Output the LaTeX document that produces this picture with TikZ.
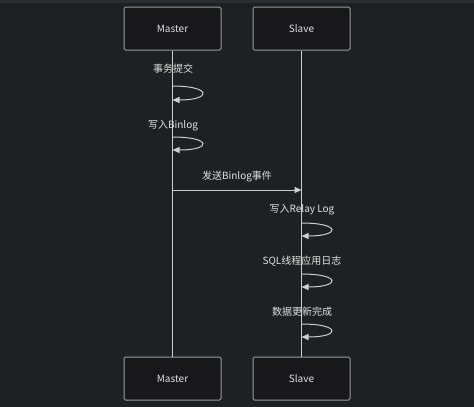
\documentclass[tikz,border=0pt]{standalone}
\usepackage{fontspec}
\setmainfont{Noto Sans CJK SC}
\usetikzlibrary{arrows.meta}
\definecolor{bgc}{HTML}{1F2023}
\definecolor{topc}{HTML}{2B2D30}
\definecolor{boxfill}{HTML}{18181A}
\definecolor{boxline}{HTML}{9A9B9E}
\definecolor{linec}{HTML}{CFCFCF}
\definecolor{textc}{HTML}{E2E2E2}
\tikzset{
  actor/.style={draw=boxline, fill=boxfill, line width=1pt, rounded corners=1.5pt,
    minimum width=97pt, minimum height=43pt, inner sep=0pt, text=textc, font=\fontsize{10}{12}\selectfont},
  life/.style={draw=linec, line width=1pt},
  msg/.style={draw=linec, line width=1pt, -{Triangle[length=7pt,width=6pt]}},
  lbl/.style={text=textc, font=\fontsize{10}{12}\selectfont, inner sep=0pt}
}
\begin{document}
\begin{tikzpicture}[x=1pt,y=1pt]
\useasboundingbox (0,0) rectangle (474,-407);
\fill[bgc] (0,0) rectangle (474,-407);
\fill[topc] (0,0) rectangle (474,-2.5);
% actors
\node[actor] (mtop) at (172.5,-28.5) {Master};
\node[actor] (stop) at (301.5,-28.5) {Slave};
\node[actor] (mbot) at (172.5,-378.5) {Master};
\node[actor] (sbot) at (301.5,-378.5) {Slave};
% lifelines
\draw[life] (mtop.south) -- (mbot.north);
\draw[life] (stop.south) -- (sbot.north);
% master self loops
\coordinate (m1a) at (172.5,-86);
\coordinate (m1b) at (172.5,-100);
\coordinate (m2a) at (172.5,-137);
\coordinate (m2b) at (172.5,-150);
\node[lbl] (l1) at (173,-69) {事务提交};
\node[lbl] (l2) at (173,-126) {写入Binlog};
\draw[msg] (m1a) .. controls (212,-86) and (212,-100) .. (m1b);
\draw[msg] (m2a) .. controls (212,-137) and (212,-150) .. (m2b);
% message
\coordinate (ms) at (172.5,-190);
\coordinate (me) at (301.5,-190);
\node[lbl] (l3) at (237,-177) {发送Binlog事件};
\draw[msg] (ms) -- (me);
% slave self loops
\node[lbl] (l4) at (302,-210) {写入Relay Log};
\node[lbl] (l5) at (302,-261) {SQL线程应用日志};
\node[lbl] (l6) at (302,-312) {数据更新完成};
\coordinate (s1a) at (301.5,-223);
\coordinate (s1b) at (301.5,-236);
\coordinate (s2a) at (301.5,-274);
\coordinate (s2b) at (301.5,-287);
\coordinate (s3a) at (301.5,-324);
\coordinate (s3b) at (301.5,-337);
\draw[msg] (s1a) .. controls (341,-223) and (341,-236) .. (s1b);
\draw[msg] (s2a) .. controls (341,-274) and (341,-287) .. (s2b);
\draw[msg] (s3a) .. controls (341,-324) and (341,-337) .. (s3b);
\end{tikzpicture}
\end{document}
